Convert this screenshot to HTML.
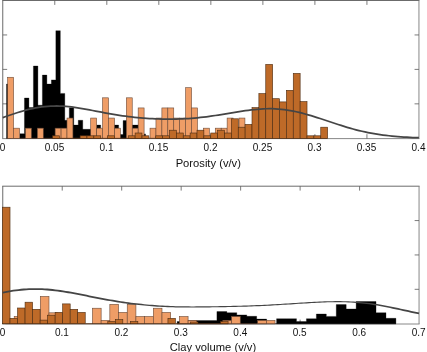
<!DOCTYPE html>
<html><head><meta charset="utf-8"><title>Histograms</title>
<style>html,body{margin:0;padding:0;background:#fff;overflow:hidden}svg{display:block}</style>
</head><body>
<svg width="427" height="352" viewBox="0 0 427 352" font-family="'Liberation Sans', sans-serif">
<rect width="427" height="352" fill="#ffffff"/>
<g id="top">
<path d="M2.75,0.5 V138.60000000000002 M2.25,0.5 H419.45" fill="none" stroke="#5a5a5a" stroke-width="0.9"/>
<path d="M418.95,0.5 V138.60000000000002 M2.25,138.60000000000002 H419.45" fill="none" stroke="#7a7a7a" stroke-width="0.9"/>
<path d="M54.77,138.60000000000002 v-4.4 M54.77,0.5 v4.4" stroke="#5a5a5a" stroke-width="0.8" fill="none"/>
<path d="M106.80,138.60000000000002 v-4.4 M106.80,0.5 v4.4" stroke="#5a5a5a" stroke-width="0.8" fill="none"/>
<path d="M158.82,138.60000000000002 v-4.4 M158.82,0.5 v4.4" stroke="#5a5a5a" stroke-width="0.8" fill="none"/>
<path d="M210.85,138.60000000000002 v-4.4 M210.85,0.5 v4.4" stroke="#5a5a5a" stroke-width="0.8" fill="none"/>
<path d="M262.88,138.60000000000002 v-4.4 M262.88,0.5 v4.4" stroke="#5a5a5a" stroke-width="0.8" fill="none"/>
<path d="M314.90,138.60000000000002 v-4.4 M314.90,0.5 v4.4" stroke="#5a5a5a" stroke-width="0.8" fill="none"/>
<path d="M366.93,138.60000000000002 v-4.4 M366.93,0.5 v4.4" stroke="#5a5a5a" stroke-width="0.8" fill="none"/>
<path d="M2.75,103.85 h4.4 M418.95,103.85 h-4.4" stroke="#5a5a5a" stroke-width="0.8" fill="none"/>
<path d="M2.75,69.40 h4.4 M418.95,69.40 h-4.4" stroke="#5a5a5a" stroke-width="0.8" fill="none"/>
<path d="M2.75,34.95 h4.4 M418.95,34.95 h-4.4" stroke="#5a5a5a" stroke-width="0.8" fill="none"/>
<path d="M6.50,138.3 L6.50,84.00 L10.98,84.00 L10.98,138.3 Z M19.96,138.3 L19.96,133.70 L24.44,133.70 L24.44,98.00 L28.93,98.00 L28.93,107.50 L33.41,107.50 L33.41,66.00 L37.90,66.00 L37.90,105.20 L42.38,105.20 L42.38,75.10 L46.87,75.10 L46.87,84.10 L51.35,84.10 L51.35,79.90 L55.84,79.90 L55.84,30.70 L60.32,30.70 L60.32,93.40 L64.81,93.40 L64.81,120.30 L69.29,120.30 L69.29,107.80 L73.78,107.80 L73.78,125.10 L78.26,125.10 L78.26,120.30 L82.75,120.30 L82.75,129.30 L87.23,129.30 L87.23,129.30 L91.72,129.30 L91.72,138.3 Z M96.20,138.3 L96.20,125.10 L100.69,125.10 L100.69,138.3 Z M114.14,138.3 L114.14,125.10 L118.63,125.10 L118.63,134.50 L123.11,134.50 L123.11,120.60 L127.60,120.60 L127.60,138.3 Z M132.08,138.3 L132.08,125.10 L136.56,125.10 L136.56,125.10 L141.05,125.10 L141.05,133.90 L145.53,133.90 L145.53,138.3 Z" fill="#000000" stroke="#000000" stroke-width="0.3" stroke-linejoin="miter"/>
<path d="M6.50,138.3 H145.53" stroke="#000" stroke-width="0.6" fill="none"/>
<path d="M7.68,138.3 H244.92" stroke="#6b4a38" stroke-width="0.6" fill="none"/>
<rect x="7.68" y="77.28" width="5.93" height="61.02" fill="#EF9D66" stroke="#6b4a38" stroke-width="0.6"/>
<rect x="13.61" y="128.18" width="5.93" height="10.12" fill="#EF9D66" stroke="#6b4a38" stroke-width="0.6"/>
<rect x="25.47" y="128.18" width="5.93" height="10.12" fill="#EF9D66" stroke="#6b4a38" stroke-width="0.6"/>
<rect x="37.34" y="128.18" width="5.93" height="10.12" fill="#EF9D66" stroke="#6b4a38" stroke-width="0.6"/>
<rect x="55.13" y="128.18" width="5.93" height="10.12" fill="#EF9D66" stroke="#6b4a38" stroke-width="0.6"/>
<rect x="61.06" y="128.18" width="5.93" height="10.12" fill="#EF9D66" stroke="#6b4a38" stroke-width="0.6"/>
<rect x="66.99" y="118.06" width="5.93" height="20.24" fill="#EF9D66" stroke="#6b4a38" stroke-width="0.6"/>
<rect x="90.71" y="118.06" width="5.93" height="20.24" fill="#EF9D66" stroke="#6b4a38" stroke-width="0.6"/>
<rect x="96.65" y="128.18" width="5.93" height="10.12" fill="#EF9D66" stroke="#6b4a38" stroke-width="0.6"/>
<rect x="102.58" y="97.82" width="5.93" height="40.48" fill="#EF9D66" stroke="#6b4a38" stroke-width="0.6"/>
<rect x="108.51" y="118.06" width="5.93" height="20.24" fill="#EF9D66" stroke="#6b4a38" stroke-width="0.6"/>
<rect x="114.44" y="128.18" width="5.93" height="10.12" fill="#EF9D66" stroke="#6b4a38" stroke-width="0.6"/>
<rect x="126.30" y="97.82" width="5.93" height="40.48" fill="#EF9D66" stroke="#6b4a38" stroke-width="0.6"/>
<rect x="132.23" y="128.18" width="5.93" height="10.12" fill="#EF9D66" stroke="#6b4a38" stroke-width="0.6"/>
<rect x="138.16" y="107.94" width="5.93" height="30.36" fill="#EF9D66" stroke="#6b4a38" stroke-width="0.6"/>
<rect x="150.02" y="128.18" width="5.93" height="10.12" fill="#EF9D66" stroke="#6b4a38" stroke-width="0.6"/>
<rect x="155.96" y="118.06" width="5.93" height="20.24" fill="#EF9D66" stroke="#6b4a38" stroke-width="0.6"/>
<rect x="161.89" y="107.94" width="5.93" height="30.36" fill="#EF9D66" stroke="#6b4a38" stroke-width="0.6"/>
<rect x="167.82" y="107.94" width="5.93" height="30.36" fill="#EF9D66" stroke="#6b4a38" stroke-width="0.6"/>
<rect x="173.75" y="118.06" width="5.93" height="20.24" fill="#EF9D66" stroke="#6b4a38" stroke-width="0.6"/>
<rect x="179.68" y="118.06" width="5.93" height="20.24" fill="#EF9D66" stroke="#6b4a38" stroke-width="0.6"/>
<rect x="185.61" y="87.70" width="5.93" height="50.60" fill="#EF9D66" stroke="#6b4a38" stroke-width="0.6"/>
<rect x="191.54" y="107.94" width="5.93" height="30.36" fill="#EF9D66" stroke="#6b4a38" stroke-width="0.6"/>
<rect x="203.40" y="128.18" width="5.93" height="10.12" fill="#EF9D66" stroke="#6b4a38" stroke-width="0.6"/>
<rect x="215.27" y="128.18" width="5.93" height="10.12" fill="#EF9D66" stroke="#6b4a38" stroke-width="0.6"/>
<rect x="221.20" y="128.18" width="5.93" height="10.12" fill="#EF9D66" stroke="#6b4a38" stroke-width="0.6"/>
<rect x="227.13" y="118.06" width="5.93" height="20.24" fill="#EF9D66" stroke="#6b4a38" stroke-width="0.6"/>
<rect x="238.99" y="118.06" width="5.93" height="20.24" fill="#EF9D66" stroke="#6b4a38" stroke-width="0.6"/>
<path d="M52.60,138.3 H327.64" stroke="#4a2a10" stroke-width="0.6" fill="none"/>
<rect x="52.60" y="135.80" width="6.88" height="2.50" fill="#BE6A28" stroke="#4a2a10" stroke-width="0.6"/>
<rect x="80.10" y="135.80" width="6.88" height="2.50" fill="#BE6A28" stroke="#4a2a10" stroke-width="0.6"/>
<rect x="86.98" y="135.80" width="6.88" height="2.50" fill="#BE6A28" stroke="#4a2a10" stroke-width="0.6"/>
<rect x="93.86" y="135.80" width="6.88" height="2.50" fill="#BE6A28" stroke="#4a2a10" stroke-width="0.6"/>
<rect x="107.61" y="135.80" width="6.88" height="2.50" fill="#BE6A28" stroke="#4a2a10" stroke-width="0.6"/>
<rect x="128.24" y="135.80" width="6.88" height="2.50" fill="#BE6A28" stroke="#4a2a10" stroke-width="0.6"/>
<rect x="135.11" y="133.00" width="6.88" height="5.30" fill="#BE6A28" stroke="#4a2a10" stroke-width="0.6"/>
<rect x="141.99" y="135.80" width="6.88" height="2.50" fill="#BE6A28" stroke="#4a2a10" stroke-width="0.6"/>
<rect x="155.74" y="135.80" width="6.88" height="2.50" fill="#BE6A28" stroke="#4a2a10" stroke-width="0.6"/>
<rect x="162.62" y="135.80" width="6.88" height="2.50" fill="#BE6A28" stroke="#4a2a10" stroke-width="0.6"/>
<rect x="169.49" y="130.20" width="6.88" height="8.10" fill="#BE6A28" stroke="#4a2a10" stroke-width="0.6"/>
<rect x="176.37" y="133.00" width="6.88" height="5.30" fill="#BE6A28" stroke="#4a2a10" stroke-width="0.6"/>
<rect x="183.24" y="135.80" width="6.88" height="2.50" fill="#BE6A28" stroke="#4a2a10" stroke-width="0.6"/>
<rect x="190.12" y="133.00" width="6.88" height="5.30" fill="#BE6A28" stroke="#4a2a10" stroke-width="0.6"/>
<rect x="197.00" y="130.20" width="6.88" height="8.10" fill="#BE6A28" stroke="#4a2a10" stroke-width="0.6"/>
<rect x="203.87" y="135.80" width="6.88" height="2.50" fill="#BE6A28" stroke="#4a2a10" stroke-width="0.6"/>
<rect x="210.75" y="133.00" width="6.88" height="5.30" fill="#BE6A28" stroke="#4a2a10" stroke-width="0.6"/>
<rect x="217.62" y="130.20" width="6.88" height="8.10" fill="#BE6A28" stroke="#4a2a10" stroke-width="0.6"/>
<rect x="224.50" y="133.00" width="6.88" height="5.30" fill="#BE6A28" stroke="#4a2a10" stroke-width="0.6"/>
<rect x="231.38" y="118.80" width="6.88" height="19.50" fill="#BE6A28" stroke="#4a2a10" stroke-width="0.6"/>
<rect x="238.25" y="127.20" width="6.88" height="11.10" fill="#BE6A28" stroke="#4a2a10" stroke-width="0.6"/>
<rect x="245.13" y="124.40" width="6.88" height="13.90" fill="#BE6A28" stroke="#4a2a10" stroke-width="0.6"/>
<rect x="252.00" y="107.60" width="6.88" height="30.70" fill="#BE6A28" stroke="#4a2a10" stroke-width="0.6"/>
<rect x="258.88" y="93.60" width="6.88" height="44.70" fill="#BE6A28" stroke="#4a2a10" stroke-width="0.6"/>
<rect x="265.76" y="64.40" width="6.88" height="73.90" fill="#BE6A28" stroke="#4a2a10" stroke-width="0.6"/>
<rect x="272.63" y="98.70" width="6.88" height="39.60" fill="#BE6A28" stroke="#4a2a10" stroke-width="0.6"/>
<rect x="279.51" y="101.90" width="6.88" height="36.40" fill="#BE6A28" stroke="#4a2a10" stroke-width="0.6"/>
<rect x="286.38" y="90.30" width="6.88" height="48.00" fill="#BE6A28" stroke="#4a2a10" stroke-width="0.6"/>
<rect x="293.26" y="73.40" width="6.88" height="64.90" fill="#BE6A28" stroke="#4a2a10" stroke-width="0.6"/>
<rect x="300.14" y="101.60" width="6.88" height="36.70" fill="#BE6A28" stroke="#4a2a10" stroke-width="0.6"/>
<rect x="307.01" y="135.80" width="6.88" height="2.50" fill="#BE6A28" stroke="#4a2a10" stroke-width="0.6"/>
<rect x="313.89" y="135.80" width="6.88" height="2.50" fill="#BE6A28" stroke="#4a2a10" stroke-width="0.6"/>
<rect x="320.76" y="127.20" width="6.88" height="11.10" fill="#BE6A28" stroke="#4a2a10" stroke-width="0.6"/>
<path d="M2.8,117.62 L5.8,116.55 L8.8,115.50 L11.8,114.47 L14.8,113.48 L17.8,112.53 L20.8,111.61 L23.8,110.76 L26.7,109.95 L29.7,109.21 L32.7,108.54 L35.7,107.93 L38.7,107.41 L41.7,106.96 L44.7,106.60 L47.7,106.32 L50.7,106.12 L53.7,106.01 L56.7,105.99 L59.7,106.04 L62.7,106.17 L65.7,106.38 L68.7,106.65 L71.7,106.99 L74.6,107.38 L77.6,107.82 L80.6,108.30 L83.6,108.81 L86.6,109.35 L89.6,109.91 L92.6,110.49 L95.6,111.07 L98.6,111.65 L101.6,112.23 L104.6,112.80 L107.6,113.35 L110.6,113.89 L113.6,114.40 L116.6,114.89 L119.5,115.36 L122.5,115.80 L125.5,116.21 L128.5,116.60 L131.5,116.95 L134.5,117.28 L137.5,117.58 L140.5,117.85 L143.5,118.10 L146.5,118.32 L149.5,118.51 L152.5,118.67 L155.5,118.81 L158.5,118.93 L161.5,119.01 L164.5,119.07 L167.4,119.11 L170.4,119.11 L173.4,119.09 L176.4,119.04 L179.4,118.96 L182.4,118.84 L185.4,118.70 L188.4,118.52 L191.4,118.31 L194.4,118.06 L197.4,117.78 L200.4,117.47 L203.4,117.13 L206.4,116.76 L209.4,116.36 L212.3,115.94 L215.3,115.50 L218.3,115.05 L221.3,114.58 L224.3,114.10 L227.3,113.61 L230.3,113.12 L233.3,112.63 L236.3,112.14 L239.3,111.65 L242.3,111.19 L245.3,110.74 L248.3,110.31 L251.3,109.93 L254.3,109.58 L257.2,109.28 L260.2,109.04 L263.2,108.86 L266.2,108.75 L269.2,108.71 L272.2,108.74 L275.2,108.86 L278.2,109.05 L281.2,109.32 L284.2,109.66 L287.2,110.09 L290.2,110.58 L293.2,111.14 L296.2,111.76 L299.2,112.45 L302.2,113.19 L305.1,113.99 L308.1,114.83 L311.1,115.71 L314.1,116.63 L317.1,117.57 L320.1,118.54 L323.1,119.53 L326.1,120.52 L329.1,121.53 L332.1,122.52 L335.1,123.51 L338.1,124.49 L341.1,125.45 L344.1,126.38 L347.1,127.29 L350.0,128.16 L353.0,129.00 L356.0,129.80 L359.0,130.55 L362.0,131.26 L365.0,131.93 L368.0,132.55 L371.0,133.13 L374.0,133.67 L377.0,134.16 L380.0,134.61 L383.0,135.03 L386.0,135.40 L389.0,135.75 L392.0,136.06 L395.0,136.34 L397.9,136.59 L400.9,136.82 L403.9,137.03 L406.9,137.21 L409.9,137.37 L412.9,137.51 L415.9,137.63 L418.9,137.74" fill="none" stroke="#454545" stroke-width="1.75" stroke-linejoin="round"/>
<text x="2.5" y="150.75" text-anchor="middle" font-size="10" fill="#111111">0</text>
<text x="54.5" y="150.75" text-anchor="middle" font-size="10" fill="#111111">0.05</text>
<text x="106.5" y="150.75" text-anchor="middle" font-size="10" fill="#111111">0.1</text>
<text x="158.5" y="150.75" text-anchor="middle" font-size="10" fill="#111111">0.15</text>
<text x="210.5" y="150.75" text-anchor="middle" font-size="10" fill="#111111">0.2</text>
<text x="262.5" y="150.75" text-anchor="middle" font-size="10" fill="#111111">0.25</text>
<text x="314.5" y="150.75" text-anchor="middle" font-size="10" fill="#111111">0.3</text>
<text x="366.5" y="150.75" text-anchor="middle" font-size="10" fill="#111111">0.35</text>
<text x="418.5" y="150.75" text-anchor="middle" font-size="10" fill="#111111">0.4</text>
<text x="208.3" y="167.3" text-anchor="middle" font-size="11.2" fill="#111111">Porosity (v/v)</text>
</g>
<g id="bottom">
<path d="M2.75,186.2 V324.0 M2.25,186.2 H419.55" fill="none" stroke="#5a5a5a" stroke-width="0.9"/>
<path d="M419.05,186.2 V324.0 M2.25,324.0 H419.55" fill="none" stroke="#7a7a7a" stroke-width="0.9"/>
<path d="M62.22,324.0 v-4.4 M62.22,186.2 v4.4" stroke="#5a5a5a" stroke-width="0.8" fill="none"/>
<path d="M121.69,324.0 v-4.4 M121.69,186.2 v4.4" stroke="#5a5a5a" stroke-width="0.8" fill="none"/>
<path d="M181.16,324.0 v-4.4 M181.16,186.2 v4.4" stroke="#5a5a5a" stroke-width="0.8" fill="none"/>
<path d="M240.64,324.0 v-4.4 M240.64,186.2 v4.4" stroke="#5a5a5a" stroke-width="0.8" fill="none"/>
<path d="M300.11,324.0 v-4.4 M300.11,186.2 v4.4" stroke="#5a5a5a" stroke-width="0.8" fill="none"/>
<path d="M359.58,324.0 v-4.4 M359.58,186.2 v4.4" stroke="#5a5a5a" stroke-width="0.8" fill="none"/>
<path d="M2.75,289.32 h4.4 M419.05,289.32 h-4.4" stroke="#5a5a5a" stroke-width="0.8" fill="none"/>
<path d="M2.75,254.95 h4.4 M419.05,254.95 h-4.4" stroke="#5a5a5a" stroke-width="0.8" fill="none"/>
<path d="M2.75,220.57 h4.4 M419.05,220.57 h-4.4" stroke="#5a5a5a" stroke-width="0.8" fill="none"/>
<path d="M177.13,323.7 L177.13,321.50 L187.08,321.50 L187.08,320.60 L197.02,320.60 L197.02,320.60 L206.97,320.60 L206.97,320.60 L216.91,320.60 L216.91,311.60 L226.86,311.60 L226.86,312.70 L236.80,312.70 L236.80,314.90 L246.75,314.90 L246.75,316.30 L256.69,316.30 L256.69,319.10 L266.64,319.10 L266.64,323.7 Z M276.58,323.7 L276.58,318.70 L286.53,318.70 L286.53,318.70 L296.47,318.70 L296.47,321.50 L306.42,321.50 L306.42,318.70 L316.36,318.70 L316.36,314.00 L326.31,314.00 L326.31,316.40 L336.25,316.40 L336.25,304.60 L346.20,304.60 L346.20,309.00 L356.14,309.00 L356.14,301.50 L366.09,301.50 L366.09,301.50 L376.03,301.50 L376.03,312.70 L385.98,312.70 L385.98,318.30 L395.92,318.30 L395.92,323.7 Z" fill="#000000" stroke="#000000" stroke-width="0.3" stroke-linejoin="miter"/>
<path d="M177.13,323.7 H395.92" stroke="#000" stroke-width="0.6" fill="none"/>
<path d="M5.51,323.7 H275.02" stroke="#6b4a38" stroke-width="0.6" fill="none"/>
<rect x="14.20" y="316.51" width="8.69" height="7.19" fill="#EF9D66" stroke="#6b4a38" stroke-width="0.6"/>
<rect x="40.29" y="296.42" width="8.69" height="27.28" fill="#EF9D66" stroke="#6b4a38" stroke-width="0.6"/>
<rect x="48.98" y="312.82" width="8.69" height="10.88" fill="#EF9D66" stroke="#6b4a38" stroke-width="0.6"/>
<rect x="92.45" y="308.22" width="8.69" height="15.48" fill="#EF9D66" stroke="#6b4a38" stroke-width="0.6"/>
<rect x="101.14" y="320.38" width="8.69" height="3.32" fill="#EF9D66" stroke="#6b4a38" stroke-width="0.6"/>
<rect x="109.84" y="304.35" width="8.69" height="19.35" fill="#EF9D66" stroke="#6b4a38" stroke-width="0.6"/>
<rect x="118.53" y="312.39" width="8.69" height="11.31" fill="#EF9D66" stroke="#6b4a38" stroke-width="0.6"/>
<rect x="127.23" y="304.35" width="8.69" height="19.35" fill="#EF9D66" stroke="#6b4a38" stroke-width="0.6"/>
<rect x="135.92" y="316.51" width="8.69" height="7.19" fill="#EF9D66" stroke="#6b4a38" stroke-width="0.6"/>
<rect x="144.61" y="316.51" width="8.69" height="7.19" fill="#EF9D66" stroke="#6b4a38" stroke-width="0.6"/>
<rect x="153.31" y="308.22" width="8.69" height="15.48" fill="#EF9D66" stroke="#6b4a38" stroke-width="0.6"/>
<rect x="162.00" y="312.39" width="8.69" height="11.31" fill="#EF9D66" stroke="#6b4a38" stroke-width="0.6"/>
<rect x="179.39" y="316.51" width="8.69" height="7.19" fill="#EF9D66" stroke="#6b4a38" stroke-width="0.6"/>
<rect x="188.08" y="320.38" width="8.69" height="3.32" fill="#EF9D66" stroke="#6b4a38" stroke-width="0.6"/>
<rect x="222.86" y="320.38" width="8.69" height="3.32" fill="#EF9D66" stroke="#6b4a38" stroke-width="0.6"/>
<rect x="231.55" y="316.51" width="8.69" height="7.19" fill="#EF9D66" stroke="#6b4a38" stroke-width="0.6"/>
<rect x="257.64" y="320.38" width="8.69" height="3.32" fill="#EF9D66" stroke="#6b4a38" stroke-width="0.6"/>
<rect x="266.33" y="320.38" width="8.69" height="3.32" fill="#EF9D66" stroke="#6b4a38" stroke-width="0.6"/>
<path d="M2.50,323.7 H228.10" stroke="#4a2a10" stroke-width="0.6" fill="none"/>
<rect x="2.45" y="207.20" width="7.57" height="116.50" fill="#BE6A28" stroke="#4a2a10" stroke-width="0.6"/>
<rect x="10.02" y="318.30" width="7.52" height="5.40" fill="#BE6A28" stroke="#4a2a10" stroke-width="0.6"/>
<rect x="17.54" y="308.00" width="7.52" height="15.70" fill="#BE6A28" stroke="#4a2a10" stroke-width="0.6"/>
<rect x="25.06" y="302.20" width="7.52" height="21.50" fill="#BE6A28" stroke="#4a2a10" stroke-width="0.6"/>
<rect x="32.58" y="309.30" width="7.52" height="14.40" fill="#BE6A28" stroke="#4a2a10" stroke-width="0.6"/>
<rect x="40.10" y="320.10" width="7.52" height="3.60" fill="#BE6A28" stroke="#4a2a10" stroke-width="0.6"/>
<rect x="47.62" y="315.20" width="7.52" height="8.50" fill="#BE6A28" stroke="#4a2a10" stroke-width="0.6"/>
<rect x="55.14" y="312.30" width="7.52" height="11.40" fill="#BE6A28" stroke="#4a2a10" stroke-width="0.6"/>
<rect x="62.66" y="303.90" width="7.52" height="19.80" fill="#BE6A28" stroke="#4a2a10" stroke-width="0.6"/>
<rect x="70.18" y="309.30" width="7.52" height="14.40" fill="#BE6A28" stroke="#4a2a10" stroke-width="0.6"/>
<rect x="77.70" y="312.40" width="7.52" height="11.30" fill="#BE6A28" stroke="#4a2a10" stroke-width="0.6"/>
<rect x="107.78" y="321.50" width="7.52" height="2.20" fill="#BE6A28" stroke="#4a2a10" stroke-width="0.6"/>
<rect x="115.30" y="319.60" width="7.52" height="4.10" fill="#BE6A28" stroke="#4a2a10" stroke-width="0.6"/>
<rect x="130.34" y="321.50" width="7.52" height="2.20" fill="#BE6A28" stroke="#4a2a10" stroke-width="0.6"/>
<rect x="167.94" y="318.30" width="7.52" height="5.40" fill="#BE6A28" stroke="#4a2a10" stroke-width="0.6"/>
<rect x="190.50" y="322.00" width="7.52" height="1.70" fill="#BE6A28" stroke="#4a2a10" stroke-width="0.6"/>
<rect x="220.58" y="321.50" width="7.52" height="2.20" fill="#BE6A28" stroke="#4a2a10" stroke-width="0.6"/>
<path d="M2.62,291.76 L5.24,291.22 L7.87,290.72 L10.50,290.25 L13.14,289.83 L15.77,289.46 L18.40,289.13 L21.04,288.85 L23.67,288.61 L26.30,288.42 L28.94,288.28 L31.57,288.19 L34.20,288.15 L36.84,288.15 L39.47,288.20 L42.10,288.30 L44.74,288.44 L47.37,288.62 L50.00,288.84 L52.63,289.11 L55.26,289.41 L57.89,289.74 L60.52,290.10 L63.14,290.50 L65.77,290.91 L68.39,291.36 L71.02,291.82 L73.64,292.30 L76.26,292.79 L78.88,293.30 L81.50,293.81 L84.12,294.33 L86.74,294.86 L89.36,295.38 L91.97,295.90 L94.59,296.42 L97.21,296.94 L99.82,297.45 L102.43,297.95 L105.05,298.45 L107.66,298.94 L110.27,299.41 L112.88,299.87 L115.49,300.32 L118.10,300.75 L120.72,301.16 L123.33,301.56 L125.94,301.94 L128.55,302.30 L131.16,302.65 L133.77,302.98 L136.38,303.29 L139.00,303.59 L141.61,303.87 L144.22,304.14 L146.83,304.39 L149.45,304.63 L152.06,304.86 L154.67,305.06 L157.29,305.26 L159.90,305.43 L162.51,305.59 L165.12,305.74 L167.74,305.86 L170.35,305.97 L172.96,306.07 L175.58,306.15 L178.19,306.22 L180.81,306.27 L183.42,306.32 L186.04,306.35 L188.65,306.37 L191.27,306.38 L193.88,306.38 L196.50,306.37 L199.12,306.36 L201.73,306.34 L204.35,306.32 L206.97,306.29 L209.58,306.26 L212.20,306.23 L214.82,306.19 L217.43,306.15 L220.05,306.11 L222.67,306.06 L225.29,306.01 L227.90,305.96 L230.52,305.91 L233.14,305.85 L235.75,305.79 L238.37,305.72 L240.99,305.65 L243.60,305.58 L246.22,305.50 L248.84,305.41 L251.45,305.32 L254.07,305.22 L256.69,305.12 L259.30,305.01 L261.92,304.89 L264.53,304.77 L267.15,304.64 L269.77,304.50 L272.38,304.36 L275.00,304.21 L277.62,304.06 L280.23,303.91 L282.85,303.75 L285.47,303.59 L288.08,303.43 L290.70,303.26 L293.32,303.09 L295.94,302.93 L298.55,302.76 L301.17,302.59 L303.79,302.43 L306.41,302.27 L309.03,302.11 L311.65,301.95 L314.27,301.81 L316.89,301.67 L319.51,301.54 L322.13,301.43 L324.75,301.33 L327.37,301.24 L329.99,301.18 L332.61,301.13 L335.23,301.11 L337.86,301.10 L340.48,301.12 L343.10,301.17 L345.72,301.23 L348.35,301.31 L350.97,301.42 L353.60,301.56 L356.22,301.72 L358.85,301.91 L361.47,302.14 L364.10,302.39 L366.73,302.68 L369.36,302.99 L371.98,303.34 L374.61,303.71 L377.24,304.11 L379.87,304.54 L382.49,305.00 L385.12,305.47 L387.74,305.97 L390.37,306.48 L392.99,307.01 L395.62,307.55 L398.24,308.10 L400.86,308.66 L403.48,309.23 L406.10,309.80 L408.72,310.37 L411.33,310.93 L413.95,311.49 L416.57,312.03 L419.18,312.57 L418.82,314.33 L416.20,313.79 L413.58,313.23 L410.96,312.67 L408.34,312.10 L405.72,311.52 L403.11,310.95 L400.49,310.37 L397.88,309.79 L395.26,309.21 L392.65,308.64 L390.04,308.08 L387.43,307.54 L384.82,307.02 L382.21,306.51 L379.61,306.03 L377.00,305.57 L374.39,305.14 L371.78,304.74 L369.17,304.37 L366.57,304.02 L363.96,303.71 L361.35,303.42 L358.74,303.17 L356.13,302.95 L353.52,302.75 L350.91,302.59 L348.30,302.45 L345.69,302.34 L343.08,302.27 L340.47,302.22 L337.85,302.20 L335.24,302.21 L332.63,302.23 L330.01,302.28 L327.40,302.35 L324.79,302.43 L322.17,302.53 L319.56,302.65 L316.94,302.78 L314.33,302.91 L311.71,303.06 L309.09,303.22 L306.48,303.38 L303.86,303.54 L301.24,303.70 L298.63,303.87 L296.01,304.04 L293.39,304.21 L290.77,304.38 L288.15,304.54 L285.54,304.71 L282.92,304.87 L280.30,305.03 L277.68,305.18 L275.06,305.34 L272.44,305.48 L269.83,305.63 L267.21,305.76 L264.59,305.89 L261.97,306.02 L259.35,306.13 L256.73,306.25 L254.11,306.35 L251.49,306.45 L248.87,306.54 L246.26,306.63 L243.64,306.71 L241.02,306.78 L238.40,306.86 L235.78,306.92 L233.16,306.98 L230.54,307.04 L227.93,307.10 L225.31,307.15 L222.69,307.20 L220.07,307.25 L217.45,307.29 L214.83,307.33 L212.22,307.37 L209.60,307.40 L206.98,307.44 L204.36,307.46 L201.74,307.49 L199.12,307.51 L196.51,307.52 L193.89,307.53 L191.27,307.53 L188.65,307.53 L186.03,307.53 L183.41,307.51 L180.79,307.49 L178.17,307.45 L175.55,307.40 L172.93,307.34 L170.30,307.27 L167.68,307.17 L165.06,307.06 L162.44,306.94 L159.82,306.80 L157.19,306.64 L154.57,306.47 L151.95,306.28 L149.33,306.07 L146.70,305.85 L144.08,305.61 L141.46,305.36 L138.83,305.10 L136.21,304.82 L133.59,304.52 L130.96,304.21 L128.34,303.88 L125.72,303.54 L123.09,303.17 L120.47,302.79 L117.84,302.40 L115.22,301.99 L112.60,301.56 L109.97,301.11 L107.35,300.66 L104.73,300.19 L102.10,299.71 L99.48,299.21 L96.86,298.71 L94.24,298.19 L91.62,297.67 L89.00,297.14 L86.39,296.62 L83.77,296.10 L81.15,295.58 L78.54,295.06 L75.92,294.56 L73.31,294.07 L70.70,293.59 L68.09,293.13 L65.48,292.69 L62.87,292.27 L60.26,291.88 L57.65,291.52 L55.04,291.19 L52.44,290.90 L49.83,290.64 L47.23,290.42 L44.63,290.24 L42.02,290.10 L39.42,290.00 L36.82,289.95 L34.22,289.95 L31.62,289.99 L29.02,290.08 L26.41,290.22 L23.81,290.40 L21.21,290.64 L18.61,290.92 L16.01,291.24 L13.40,291.61 L10.80,292.03 L8.20,292.49 L5.59,292.99 L2.98,293.53 Z" fill="#454545" stroke="none"/>
<text x="2.5" y="335.9" text-anchor="middle" font-size="10" fill="#111111">0</text>
<text x="61.9" y="335.9" text-anchor="middle" font-size="10" fill="#111111">0.1</text>
<text x="121.4" y="335.9" text-anchor="middle" font-size="10" fill="#111111">0.2</text>
<text x="180.8" y="335.9" text-anchor="middle" font-size="10" fill="#111111">0.3</text>
<text x="240.3" y="335.9" text-anchor="middle" font-size="10" fill="#111111">0.4</text>
<text x="299.7" y="335.9" text-anchor="middle" font-size="10" fill="#111111">0.5</text>
<text x="359.2" y="335.9" text-anchor="middle" font-size="10" fill="#111111">0.6</text>
<text x="418.6" y="335.9" text-anchor="middle" font-size="10" fill="#111111">0.7</text>
<text x="213.0" y="350.9" text-anchor="middle" font-size="11.2" fill="#111111">Clay volume (v/v)</text>
</g>
</svg>
</body></html>
